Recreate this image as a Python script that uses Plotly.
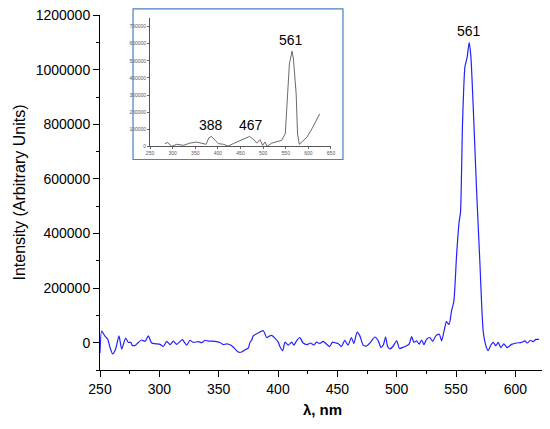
import plotly.graph_objects as go

# Main spectrum (blue)
wl = [250, 251.4, 254, 256.5, 258.4, 260.7, 263.2, 266, 268.3, 271.6, 273.9, 275.9, 277.3, 280, 282.3,
      285, 288, 290.7, 293.5, 296.9, 300.5, 303.3, 306.2, 309, 311.8, 314.6, 319.4, 323, 325.8, 328.6,
      332.8, 335.7, 338.5, 341.3, 345.4, 348.3, 351, 353.9, 356.7, 360.4, 363.2, 366.5, 369.4, 372.7,
      375, 376.4, 377.8, 379.2, 383.4, 387.6, 390.4, 392.6, 394.6, 397.4, 400.2, 401.6, 403.9, 406,
      408.6, 411.5, 413.4, 415.6, 418.4, 421.2, 424.6, 427.4, 430.2, 432.4, 435.2, 438, 440.8, 443.6,
      445.9, 448.7, 450.6, 453.5, 456.3, 459, 461.9, 463.9, 466.7, 469, 471.8, 474.6, 478, 481.6, 484.5,
      486.7, 488.7, 490.7, 492.4, 494.3, 497.1, 500, 502.4, 505.2, 508.4, 510.6, 512.6, 514.6, 516.8,
      519, 521, 523, 525.2, 528, 530.3, 533, 535.9, 537.9, 540.6, 542, 544.2, 546.2, 548.2, 550.5,
      552.6, 553.8, 555.5, 557.5, 559.4, 561.1, 562.5, 564.5, 567.3, 570.1, 572.9, 575.2, 577.1, 579.1,
      581.3, 583.6, 585.5, 587.8, 590.3, 593.1, 596.8, 601, 605.2, 608, 610, 612.8, 615, 617.3, 620]
intensity = [-38000, 43000, 25000, 13000, -17000, -41000, -23000, 25000, -23000, 17000, 1000, 2000, -10000, -9000, 1000,
             10000, 5000, 25000, -1000, -4000, -6000, -14000, 5000, -7000, 6000, -6000, 11000, -9000, 9000, 1000,
             4000, 0, 9000, 6000, 6000, 4000, 1000, -7000, -4000, -9000, -20000, -34000, -34000, -25000,
             -20000, 2000, 9000, 25000, 36000, 44000, 19000, 24000, 27000, 17000, 2000, -14000, -29000, 2000,
             -9000, 2000, -9000, 7000, 19000, -1000, -7000, -1000, -8000, 2000, -3000, 5000, -5000, -14000,
             2000, -1000, -3000, -14000, 9000, -9000, 19000, -3000, 39000, 25000, -9000, -12000, 2000, 21000, 7000,
             -17000, -9000, 21000, -14000, -23000, -12000, 7000, -21000, -17000, -11000, -4000, 22000, 1000, 7000,
             -5000, 10000, -7000, 13000, 19000, 5000, 25000, 31000, 7000, 56000, 77000, 67000, 116000, 152000, 321000,
             442000, 478000, 804000, 1010000, 1046000, 1100000, 1052000, 865000, 563000, 297000, 43000, -11000, -29000, -11000,
             1000, -11000, 1000, -18000, -4000, -18000, -6000, -1000, 1000, 7000, -1000, 9000, 4000, 12000, 12000]

# Inset spectrum (gray)
wl_inset = [283, 289, 298, 309, 324, 338, 353, 364, 374, 380, 386, 394, 401, 412, 423, 434, 449, 460, 470,
            477, 486, 493, 499, 504, 509, 519, 530, 541, 549, 554, 558, 564, 567, 573, 576, 580, 589, 597,
            608, 625]
int_inset = [16000, 22000, 0, 12000, 6000, 19000, 25000, 19000, 12000, 50000, 58000, 35000, 16000, 12000, 2000,
             16000, 35000, 45000, 58000, 45000, 19000, 39000, 6000, 25000, 0, 19000, 25000, 35000, 74000, 268000,
             482000, 556000, 510000, 307000, 74000, 12000, 35000, 54000, 103000, 190000]

inset_peaks = [385, 473, 561.5]
inset_peak_y = [122000, 122000, 624000]
inset_peak_labels = ["388", "467", "561"]

main_peak_x = 561
main_peak_y = 1100000
main_peak_label = "561"

fig = go.Figure()
fig.add_trace(go.Scatter(x=wl, y=intensity, mode="lines", line_shape="spline",
                         line=dict(color="#2222ff", width=1.2, smoothing=0.6), showlegend=False))
fig.add_trace(go.Scatter(x=wl_inset, y=int_inset, mode="lines",
                         line=dict(color="#444444", width=0.8), showlegend=False,
                         xaxis="x2", yaxis="y2"))

font = "Liberation Sans, Arial, sans-serif"

fig.add_annotation(x=main_peak_x, y=main_peak_y, text=main_peak_label, showarrow=False,
                   yanchor="bottom", yshift=2, font=dict(size=14, color="black", family=font))
for px, py, lab in zip(inset_peaks, inset_peak_y, inset_peak_labels):
    fig.add_annotation(x=px, y=py, text=lab, showarrow=False, xref="x2", yref="y2",
                       font=dict(size=14, color="black", family=font))

fig.add_shape(type="rect", xref="paper", yref="paper", x0=0.0742, x1=0.546, y0=0.593, y1=1.017,
              line=dict(color="#4a7fc1", width=1.2), fillcolor="rgba(0,0,0,0)")

# page body has an 8px default margin; figure is sized/offset to compensate
fig.update_layout(
    width=542, height=421,
    margin=dict(l=92, r=5, t=7, b=59),
    paper_bgcolor="white", plot_bgcolor="white",
    font=dict(family=font, size=14, color="black"),
    xaxis=dict(range=[250, 625], tickvals=[250, 300, 350, 400, 450, 500, 550, 600],
               ticks="outside", ticklen=6, tickwidth=1, tickcolor="black",
               minor=dict(tickvals=[275, 325, 375, 425, 475, 525, 575, 625], ticks="outside", ticklen=3,
                          tickcolor="black"),
               showline=True, linecolor="black", linewidth=1, showgrid=False, zeroline=False,
               automargin=False, ticklabeloverflow="allow",
               title=dict(text="<b>λ, nm</b>", font=dict(size=15), standoff=8),
               tickfont=dict(size=14)),
    yaxis=dict(range=[-100000, 1201000], tickvals=[0, 200000, 400000, 600000, 800000, 1000000, 1200000],
               ticktext=["0", "200000", "400000", "600000", "800000", "1000000", "1200000"],
               ticks="outside", ticklen=6, tickwidth=1, tickcolor="black",
               minor=dict(tickvals=[-100000, 100000, 300000, 500000, 700000, 900000, 1100000],
                          ticks="outside", ticklen=3, tickcolor="black"),
               showline=True, linecolor="black", linewidth=1, showgrid=False, zeroline=False,
               automargin=False, ticklabeloverflow="allow",
               title=dict(text="Intensity (Arbitrary Units)", font=dict(size=16), standoff=6),
               tickfont=dict(size=14)),
    xaxis2=dict(domain=[0.1124, 0.5191], anchor="y2", range=[250, 650],
                tickvals=[250, 300, 350, 400, 450, 500, 550, 600, 650],
                ticks="outside", ticklen=2, tickcolor="#666", tickfont=dict(size=5, color="#555"),
                showline=True, linecolor="#555", linewidth=0.8, showgrid=False, zeroline=False,
                automargin=False),
    yaxis2=dict(domain=[0.630, 0.9915], anchor="x2", range=[0, 750000],
                tickvals=[0, 100000, 200000, 300000, 400000, 500000, 600000, 700000],
                ticktext=["0", "100000", "200000", "300000", "400000", "500000", "600000", "700000"],
                ticks="outside", ticklen=2, tickcolor="#666", tickfont=dict(size=5, color="#555"),
                showline=True, linecolor="#555", linewidth=0.8, showgrid=False, zeroline=False,
                automargin=False),
)

fig.write_html("out.html")
